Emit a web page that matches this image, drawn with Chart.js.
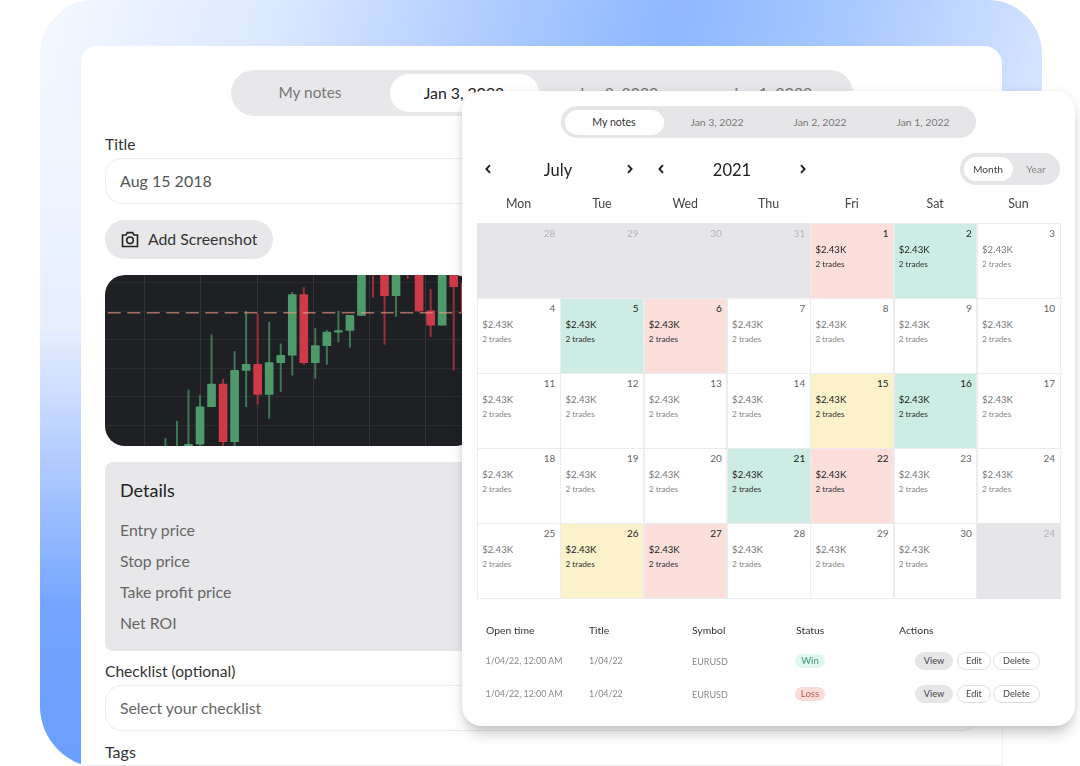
<!DOCTYPE html>
<html><head><meta charset="utf-8">
<script src="https://cdn.jsdelivr.net/npm/chart.js@4"></script>
<style>
html,body{margin:0;padding:0;background:#fff;width:1080px;height:766px;overflow:hidden;font-family:Lato,"Open Sans",sans-serif}
.a{position:absolute}
.t{position:absolute;white-space:nowrap;line-height:1;transform:translateY(-50%)}
.c{transform:translate(-50%,-50%)}
#panel{left:40px;top:0;width:1002px;height:768px;border-radius:54px 54px 0 62px;overflow:hidden;
background:linear-gradient(105deg,#f5f8ff 0,#dbe8ff 20%,#a9c8ff 40%,#8db7ff 53%,#a9c9ff 68%,#d4e3ff 84%,#dce9ff 100%)}
#strip{position:absolute;left:0;top:0;width:42px;height:768px;background:linear-gradient(to bottom,rgba(240,245,255,0) 70px,#f0f5ff 150px,#e6eeff 330px,#a9c6ff 480px,#72a4ff 610px,#6a9fff 768px)}
#card{left:81px;top:46px;width:921px;height:719px;background:#fff;border-radius:16px 18px 0 0;border-bottom:1px solid #eee}
.pill{background:#e8e8ea}
.inp{background:#fff;border:1px solid #eaeaec;border-radius:17px;box-sizing:border-box}
#chartbox{left:105px;top:275px;width:370px;height:171px;background:#1f2023;border-radius:20px;overflow:hidden}
#candles{position:absolute;left:-3px;top:0;width:369px;height:171px}
#modal{left:462px;top:91px;width:613px;height:635px;background:#fff;border-radius:20px;box-shadow:0 10px 14px -3px rgba(0,0,0,.22),0 0 9px rgba(0,0,0,.07)}
.cell{position:absolute;box-sizing:border-box;border:1px solid #ececee}
.btn{position:absolute;box-sizing:border-box;border-radius:10px;font-size:9.2px;color:#444;text-align:center;line-height:18px;height:18px}
</style></head><body>
<div id="panel" class="a"><div id="strip"></div></div>
<div id="card" class="a"></div>
<div class="a" style="left:1002px;top:92px;width:78px;height:680px;background:#fff;border-left:1px solid #f4f4f5"></div>

<div class="a pill" style="left:231px;top:70px;width:622px;height:46px;border-radius:23px"></div>
<div class="a" style="left:390px;top:74px;width:149px;height:38px;border-radius:19px;background:#fff"></div>
<div class="t c" style="left:310px;top:93px;font-size:15.4px;color:#777">My notes</div>
<div class="t c" style="left:464px;top:93px;font-size:15.8px;color:#222">Jan 3, 2022</div>
<div class="t c" style="left:618px;top:93px;font-size:15.8px;color:#777">Jan 2, 2022</div>
<div class="t c" style="left:772px;top:93px;font-size:15.8px;color:#777">Jan 1, 2022</div>

<div class="t" style="left:105px;top:145px;font-size:15.6px;color:#333">Title</div>
<div class="a inp" style="left:105px;top:158px;width:873px;height:46px"></div>
<div class="t" style="left:120px;top:180.5px;font-size:16px;color:#555">Aug 15 2018</div>

<div class="a pill" style="left:105px;top:220px;width:168px;height:39px;border-radius:20px"></div>
<svg class="a" style="left:121px;top:231px" width="18" height="17" viewBox="0 0 18 17" fill="none" stroke="#222" stroke-width="1.6"><path d="M1.5 4h3.6l1.2-2.4h5.4L13 4h3.5v11.5h-15z"/><circle cx="9" cy="9.3" r="3.3"/></svg>
<div class="t" style="left:148px;top:238.5px;font-size:15.8px;color:#333">Add Screenshot</div>

<div id="chartbox" class="a"><canvas id="candles" width="369" height="171"></canvas></div>

<div class="a pill" style="left:105px;top:462px;width:873px;height:189px;border-radius:8px"></div>
<div class="t" style="left:120px;top:489.5px;font-size:18px;color:#222">Details</div>
<div class="t" style="left:120px;top:530px;font-size:15.8px;color:#666">Entry price</div>
<div class="t" style="left:120px;top:561px;font-size:15.8px;color:#666">Stop price</div>
<div class="t" style="left:120px;top:592px;font-size:15.8px;color:#666">Take profit price</div>
<div class="t" style="left:120px;top:623px;font-size:15.8px;color:#666">Net ROI</div>
<div class="t" style="left:105px;top:672px;font-size:15.6px;color:#333">Checklist (optional)</div>
<div class="a inp" style="left:105px;top:685px;width:873px;height:46px"></div>
<div class="t" style="left:120px;top:707.5px;font-size:15.8px;color:#666">Select your checklist</div>
<div class="t" style="left:105px;top:752px;font-size:16px;color:#333">Tags</div>

<div id="modal" class="a"></div>
<div id="ui"></div>

<script>
// Candlestick series (price units; no axis labels are shown in the picture)
const candleLabels = Array.from({length:32},(_,i)=>'c'+(i+1));
const opens  = [null,null,null,null,null,-0.3,-0.1,0.05,0.33,1.65,2.45,0.42,2.93,3.14,2.08,3.20,3.46,5.59,3.20,3.80,4.27,4.33,4.86,7.00,6.60,5.55,6.70,6.60,5.02,4.52,6.60,6.00];
const closes = [null,null,null,null,null,-0.1,0.20,0.33,1.65,2.45,0.42,2.93,3.14,2.08,3.20,3.46,5.59,3.20,3.80,4.27,4.33,4.86,6.70,6.50,5.55,6.60,6.40,5.02,4.52,6.60,5.87,5.00];
const highs  = [null,null,null,null,null,0.54,1.14,2.24,2.04,4.18,2.62,3.59,5.01,4.91,4.62,3.86,5.67,5.84,4.40,4.33,5.01,4.86,6.90,7.00,6.90,7.00,6.80,6.90,5.78,6.90,6.90,6.50];
const lows   = [null,null,null,null,null,-0.5,-0.2,0.10,0.09,1.65,0.09,0.09,1.65,1.74,1.24,2.18,2.76,3.14,2.65,3.14,3.93,3.74,4.86,5.49,3.84,4.82,6.15,5.00,4.11,4.52,2.94,3.00];
const refLevels = candleLabels.map(()=>4.95);

// Calendar
const weekdays = ['Mon','Tue','Wed','Thu','Fri','Sat','Sun'];
const dayNumbers = [28,29,30,31,1,2,3,4,5,6,7,8,9,10,11,12,13,14,15,16,17,18,19,20,21,22,23,24,25,26,27,28,29,30,24];
const dayStates  = ['o','o','o','o','r','g','w','w','g','r','w','w','w','w','w','w','w','w','y','g','w','w','w','w','g','r','w','w','w','y','r','w','w','w','o'];
const dayAmount = '$2.43K', dayTrades = '2 trades';

// Trades table
const tableHeads = ['Open time','Title','Symbol','Status','Actions'];
const tradeTimes = ['1/04/22, 12:00 AM','1/04/22, 12:00 AM'];
const tradeTitles = ['1/04/22','1/04/22'];
const tradeSymbols = ['EURUSD','EURUSD'];
const tradeStatus = ['Win','Loss'];

const GREEN='#4f9a6b',RED='#cf3a49',GW='#3f7857',RW='#9c2f3c';
const isUp = opens.map((o,i)=>closes[i]>=o);
new Chart(document.getElementById('candles'),{
  type:'bar',
  data:{labels:candleLabels,datasets:[
    {type:'line',xAxisID:'x',yAxisID:'y',data:refLevels,borderColor:'#ec9582',borderWidth:1,borderDash:[13,6.5],pointRadius:0,order:0},
    {label:'body',xAxisID:'x',yAxisID:'y',data:opens.map((o,i)=>o===null?null:[o,closes[i]]),backgroundColor:isUp.map(u=>u?GREEN:RED),barThickness:8,grouped:false,order:1,borderRadius:1},
    {label:'wick',xAxisID:'x',yAxisID:'y',data:lows.map((l,i)=>l===null?null:[l,highs[i]]),backgroundColor:isUp.map(u=>u?GW:RW),barThickness:1.3,grouped:false,order:2}
  ]},
  options:{responsive:false,animation:false,devicePixelRatio:1,maintainAspectRatio:false,
    layout:{padding:0},
    plugins:{legend:{display:false},tooltip:{enabled:false},title:{display:false}},
    scales:{
      x:{type:'category',display:false},
      x2:{type:'linear',position:'bottom',min:0.397,max:5.653,
        afterBuildTicks:s=>{s.ticks=[1,2,3,4,5].map(v=>({value:v}))},
        ticks:{display:false},border:{display:false},grid:{color:'#333437',lineWidth:1,drawTicks:false}},
      y:{type:'linear',min:0.27,max:6.28,
        afterBuildTicks:s=>{s.ticks=[1,2,3,4,5,6].map(v=>({value:v}))},
        ticks:{display:false},border:{display:false},grid:{color:'#2b2c2f',lineWidth:1,drawTicks:false}}
    }
  }
});

// ---- HTML chrome of the modal
const ui=document.getElementById('ui');
function add(html){ui.insertAdjacentHTML('beforeend',html)}
function txt(x,y,s,size,color,center,extra){add(`<div class="t${center?' c':''}" style="left:${x}px;top:${y}px;font-size:${size}px;color:${color};${extra||''}">${s}</div>`)}
function box(x,y,w,h,bg,r,extra){add(`<div class="a" style="left:${x}px;top:${y}px;width:${w}px;height:${h}px;background:${bg};border-radius:${r}px;${extra||''}"></div>`)}
function chev(x,y,left){add(`<svg class="a" style="left:${x-4}px;top:${y-5}px" width="8" height="10" viewBox="0 0 8 10" fill="none" stroke="#222" stroke-width="1.9"><path d="${left?'M6 1.2 2.4 5 6 8.8':'M2 1.2 5.6 5 2 8.8'}"/></svg>`)}

box(561,106,415,32,'#e6e6e8',16);
box(565,110,99,25,'#fff',12.5);
txt(614,122,'My notes',10.6,'#333',1);
[['Jan 3, 2022',717],['Jan 2, 2022',820],['Jan 1, 2022',923]].forEach(([s,x])=>txt(x,122,s,10.4,'#777',1));
chev(488,169,1);chev(630,169,0);chev(661,169,1);chev(803,169,0);
txt(558,169.5,'July',16.5,'#222',1);
txt(732,169.5,'2021',16.5,'#222',1);
box(960,153,100,32,'#e6e6e8',16);
box(964,157,49,24,'#fff',12);
txt(988,169,'Month',10.2,'#444',1);
txt(1036,169,'Year',10.2,'#888',1);

const colX=[477,560.3,643.6,726.9,810.2,893.5,976.8], cw=83.3, ch=75, gy=223;
const fill={o:'#e6e6e8',r:'#fcdfdb',g:'#cdece3',y:'#fbf1cb',w:'#fff'};
weekdays.forEach((d,i)=>txt(colX[i]+cw/2,203.5,d,12.4,'#444',1));
dayNumbers.forEach((n,i)=>{
  const c=i%7,r=Math.floor(i/7),x=colX[c],y=gy+r*ch,st=dayStates[i];
  add(`<div class="cell" style="left:${x}px;top:${y}px;width:${cw+.5}px;height:${ch+.5}px;background:${fill[st]};${st==='o'?'border-color:#e6e6e8':''}"></div>`);
  const dark=st!=='w'&&st!=='o';
  add(`<div class="t" style="right:${1080-(x+cw-5)}px;top:${y+10}px;font-size:10px;color:${st==='o'?'#b4b4b8':dark?'#222':'#666'}">${n}</div>`);
  if(st!=='o'){
    txt(x+5.2,y+26.5,dayAmount,9.6,dark?'#222':'#777',0);
    txt(x+5.2,y+41,dayTrades,8.2,dark?'#333':'#888',0);
  }
});

const headX=[486,589,692,796,899];
tableHeads.forEach((h,i)=>txt(headX[i],629.5,h,10.4,'#333',0));
[661,694].forEach((y,r)=>{
  txt(485.5,y,tradeTimes[r],8.9,'#888',0);
  txt(589,y,tradeTitles[r],8.9,'#888',0);
  txt(692,y,tradeSymbols[r],9,'#888',0);
  const win=tradeStatus[r]==='Win';
  box(795,y-7,30,14,win?'#e0f7f0':'#fbdcd8',7);
  txt(810,y,tradeStatus[r],9.6,win?'#3f9a7c':'#b85e58',1);
  add(`<div class="btn" style="left:915px;top:${y-9}px;width:38px;background:#e6e6e8">View</div>`);
  add(`<div class="btn" style="left:957px;top:${y-9}px;width:34px;border:1px solid #ddd;line-height:16px">Edit</div>`);
  add(`<div class="btn" style="left:993px;top:${y-9}px;width:47px;border:1px solid #ddd;line-height:16px">Delete</div>`);
});
</script>
</body></html>
